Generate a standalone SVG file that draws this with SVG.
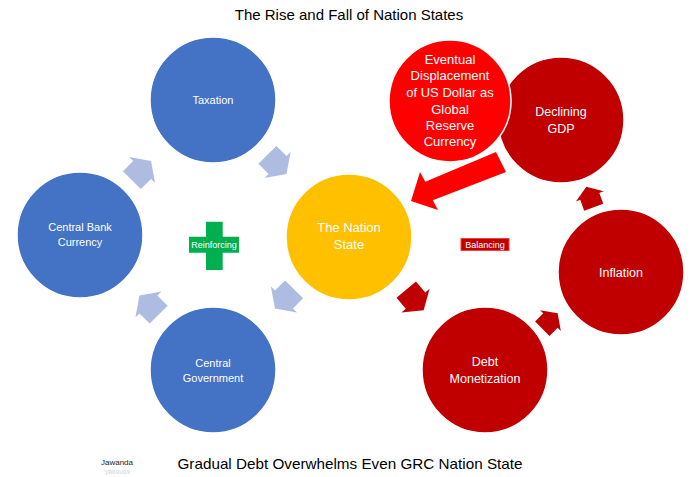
<svg xmlns="http://www.w3.org/2000/svg" width="700" height="477" viewBox="0 0 700 477">
<style>
text{font-family:"Liberation Sans",Arial,sans-serif;text-anchor:middle}
.wt{fill:#fff;font-size:12.5px}
.sm{fill:#fff;font-size:9px}
.blue{fill:#4472C4;stroke:#fff;stroke-width:1.5}
.yel{fill:#FFC000;stroke:#fff;stroke-width:1.5}
.dred{fill:#C00000;stroke:#fff;stroke-width:1.5}
.red{fill:#FF0000;stroke:#fff;stroke-width:1.5}
.ba{fill:#AEBCE1}
.ra{fill:#C00000}
.cap{fill:#000;font-size:15px}
</style>
<defs>
<path id="arr" d="M13.5,0 L0.8,-18.4 L0.8,-12.7 L-13.6,-12.7 L-13.6,12.7 L0.8,12.7 L0.8,18.4 Z"/>
</defs>
<rect width="700" height="477" fill="#fff"/>
<text class="cap" x="349" y="20">The Rise and Fall of Nation States</text>
<g id="connectors">
<use href="#arr" class="ba" transform="translate(141.5,170.5) rotate(-45)"/>
<use href="#arr" class="ba" transform="translate(277,164.5) rotate(45)"/>
<use href="#arr" class="ba" transform="translate(284.5,299) rotate(135)"/>
<use href="#arr" class="ba" transform="translate(149,305) rotate(-135)"/>
<use href="#arr" class="ra" transform="translate(415,300) rotate(50)"/>
<use href="#arr" class="ra" transform="translate(550,321) rotate(-45) scale(0.8)"/>
<use href="#arr" class="ra" transform="translate(590,197) rotate(-110) scale(0.8)"/>
<polygon fill="#FF0000" points="411,201 420,172 425.3,181.7 496,152 506,172 432.8,200.3 438,210"/>
</g>
<g id="taxation"><circle class="blue" cx="213" cy="100" r="63"/><text class="wt" x="213" y="104" style="font-size:11px">Taxation</text></g>
<g id="central-bank"><circle class="blue" cx="80" cy="235" r="63"/><text class="wt" x="80" y="231" style="font-size:11px">Central Bank</text><text class="wt" x="80" y="246" style="font-size:11px">Currency</text></g>
<g id="central-government"><circle class="blue" cx="213" cy="370" r="63"/><text class="wt" x="213" y="367" style="font-size:11px">Central</text><text class="wt" x="213" y="382" style="font-size:11px">Government</text></g>
<g id="nation-state"><circle class="yel" cx="349" cy="237" r="63"/><text class="wt" x="349" y="232" style="font-size:13px">The Nation</text><text class="wt" x="349" y="249" style="font-size:13px">State</text></g>
<g id="debt"><circle class="dred" cx="485" cy="370" r="63"/><text class="wt" x="485" y="366">Debt</text><text class="wt" x="485" y="383">Monetization</text></g>
<g id="inflation"><circle class="dred" cx="621" cy="272" r="63"/><text class="wt" x="621" y="277">Inflation</text></g>
<g id="gdp"><circle class="dred" cx="561" cy="120" r="63"/><text class="wt" x="561" y="116">Declining</text><text class="wt" x="561" y="133">GDP</text></g>
<g id="displacement"><circle class="red" cx="450" cy="101" r="61"/>
<text class="wt" style="font-size:13px" x="450" y="64">Eventual</text>
<text class="wt" style="font-size:13px" x="450" y="80">Displacement</text>
<text class="wt" style="font-size:13px" x="450" y="97">of US Dollar as</text>
<text class="wt" style="font-size:13px" x="450" y="114">Global</text>
<text class="wt" style="font-size:13px" x="450" y="130">Reserve</text>
<text class="wt" style="font-size:13px" x="450" y="146">Currency</text></g>
<g id="reinforcing"><path fill="#00B050" d="M206,221.7 H222.7 V236.7 H239 V252.7 H222.7 V270 H206 V252.7 H189 V236.7 H206 Z"/><text class="sm" x="214" y="248">Reinforcing</text></g>
<g id="balancing"><rect x="461" y="238.5" width="48" height="12" fill="#C00000" stroke="#FF3B3B" stroke-width="1"/><text class="sm" x="485" y="248">Balancing</text></g>
<text class="cap" x="350" y="469" textLength="345" lengthAdjust="spacingAndGlyphs">Gradual Debt Overwhelms Even GRC Nation State</text>
<g id="jawanda"><text x="117" y="465" style="font-size:8px;fill:#222">Jawanda</text><text x="117" y="-470" transform="scale(1,-1)" style="font-size:6.5px;fill:#222;opacity:0.2">Jawanda</text></g>
</svg>
